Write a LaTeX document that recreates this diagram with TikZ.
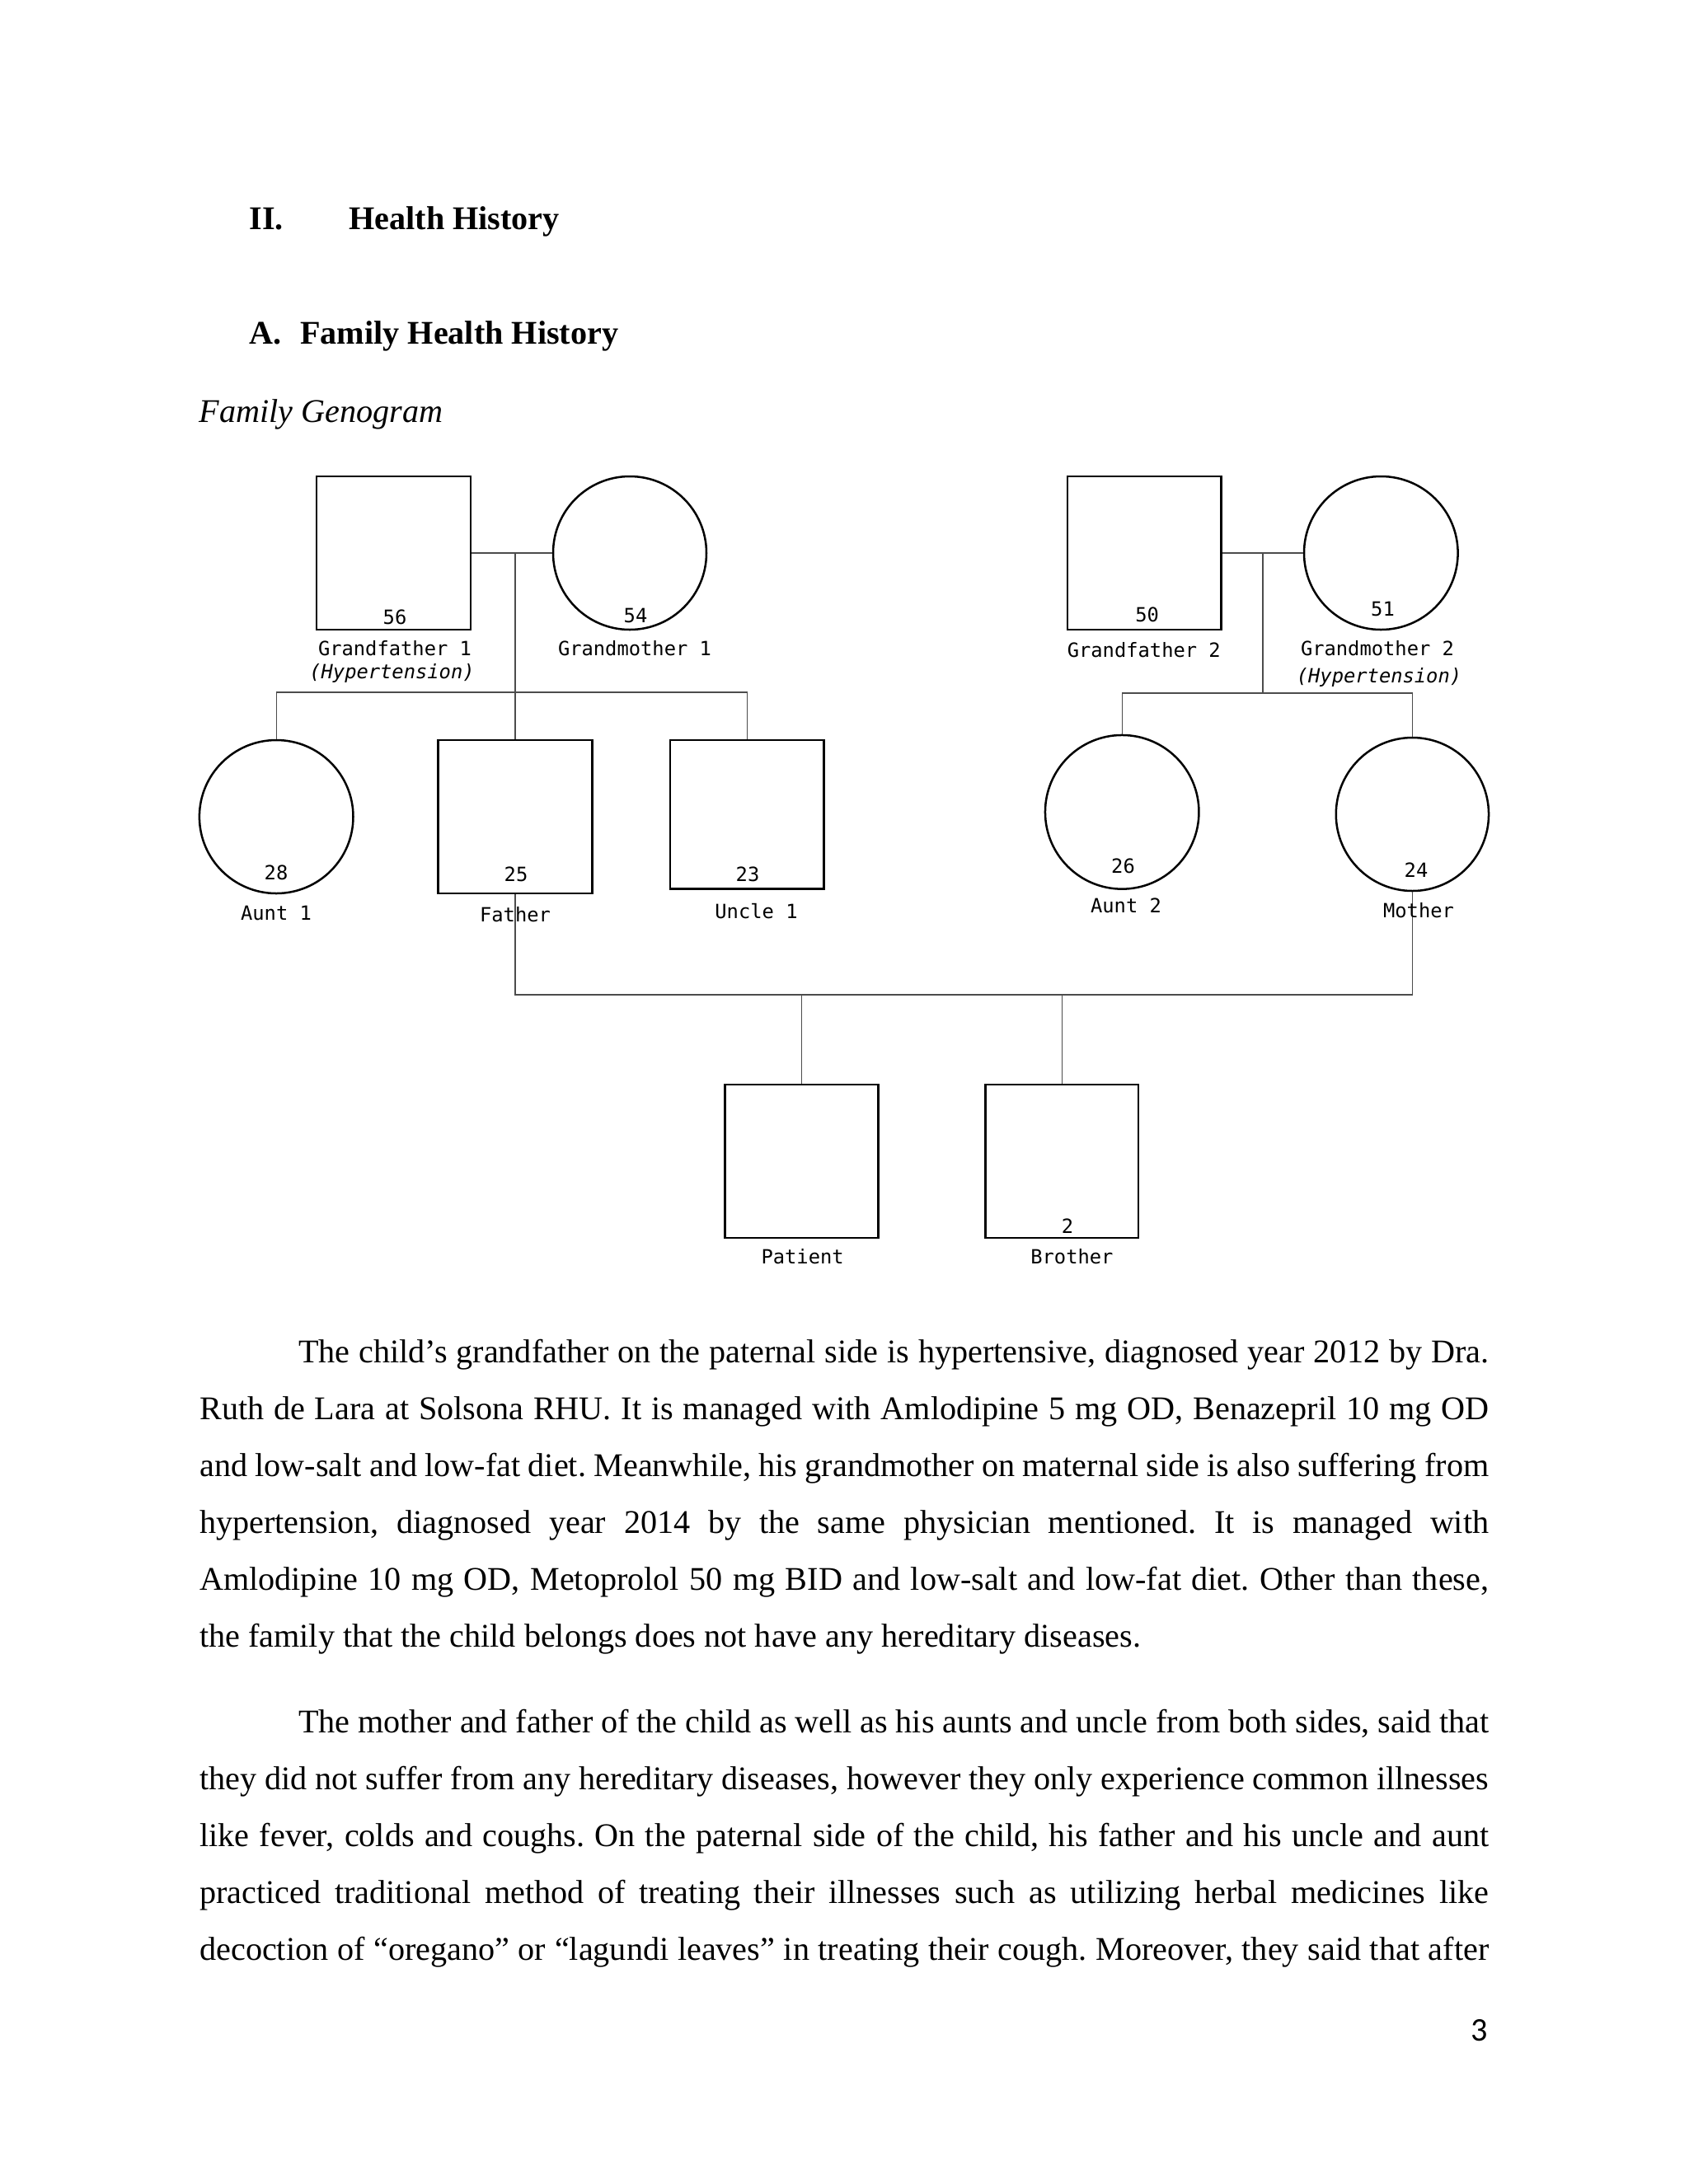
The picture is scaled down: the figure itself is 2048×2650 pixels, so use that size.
\documentclass[tikz,border=0pt]{standalone}
\usepackage{fontspec}
\usetikzlibrary{shapes.geometric}
\setmainfont{Liberation Serif}
\newfontfamily\genofont{DejaVu Sans Mono}
\newfontfamily\pagenumfont{Carlito}
\newdimen\pxu \pxu=0.298828bp
\begin{document}
\begin{tikzpicture}[x=0.298828bp,y=-0.298828bp,
  sqnode/.style 2 args={draw=black, line width=0.75bp, rectangle, inner sep=0pt, minimum width=#1*0.298828bp, minimum height=#2*0.298828bp},
  circnode/.style 2 args={draw=black, line width=0.75bp, ellipse, inner sep=0pt, minimum width=#1*0.298828bp, minimum height=#2*0.298828bp},
  conn/.style={draw=black!70, line width=0.4bp},
  lbl/.style={font=\genofont\fontsize{7.1bp}{8bp}\selectfont, anchor=base, inner sep=0pt},
  lbli/.style={font=\genofont\itshape\fontsize{7.1bp}{8bp}\selectfont, anchor=base, inner sep=0pt},
  head/.style={font=\bfseries\fontsize{12bp}{14bp}\selectfont, anchor=base west, inner sep=0pt},
  capt/.style={font=\itshape\fontsize{12bp}{14bp}\selectfont, anchor=base west, inner sep=0pt},
  para/.style={inner sep=0pt, text width=1564*0.298828bp, align=justify, anchor=base west, font=\fontsize{12bp}{20.65bp}\selectfont}
]
\useasboundingbox (0,0) rectangle (2048,2650);
\fill[white] (0,0) rectangle (2048,2650);

% headings
\node[head] (h2num) at (302,278) {II.};
\node[head] (h2) at (422.7,278) {Health History};
\node[head] (h3num) at (302,417) {A.};
\node[head] (h3) at (363.6,417) {Family Health History};
\node[capt] (cap) at (241,512) {Family Genogram};

% genogram shapes
\node[sqnode={187}{186}] (gf1) at (477.3,671) {};
\node[circnode={186}{186}] (gm1) at (764,671) {};
\node[sqnode={186.5}{186}] (gf2) at (1388.3,671) {};
\node[circnode={186.6}{186}] (gm2) at (1675.3,671) {};
\node[circnode={186.6}{186}] (aunt1) at (335.2,991) {};
\node[sqnode={186.5}{186}] (father) at (625,991) {};
\node[sqnode={186.6}{180.7}] (uncle1) at (906.3,988.3) {};
\node[circnode={186.5}{186.7}] (aunt2) at (1361.2,985.3) {};
\node[circnode={185.3}{186}] (mother) at (1713.4,988) {};
\node[sqnode={186}{186}] (patient) at (972.5,1409) {};
\node[sqnode={185.4}{186}] (brother) at (1288.3,1409) {};

% connectors
\coordinate (m1) at (625,672);
\coordinate (s1) at (625,840);
\draw[conn] (gf1.east) -- (gm1.west);
\draw[conn] (m1) -- (s1);
\draw[conn] (aunt1.north) |- (s1) -| (uncle1.north);
\draw[conn] (s1) -- (father.north);

\coordinate (m2) at (1532,672);
\coordinate (s2) at (1532,841);
\draw[conn] (gf2.east) -- (gm2.west);
\draw[conn] (m2) -- (s2);
\draw[conn] (aunt2.north) |- (s2) -| (mother.north);

\coordinate (pl) at (972.5,1207);
\draw[conn] (father.south) |- (pl) -| (mother.south);
\draw[conn] (pl) -- (patient.north);
\draw[conn] (brother.north) -- (brother.north |- pl);

% labels
\node[lbl] (a56) at (479,757) {56};
\node[lbl] (ngf1) at (479,795) {Grandfather 1};
\node[lbli] (hgf1) at (475.5,823) {(Hypertension)};
\node[lbl] (a54) at (771,755) {54};
\node[lbl] (ngm1) at (770,795) {Grandmother 1};
\node[lbl] (a50) at (1391.6,754) {50};
\node[lbl] (ngf2) at (1387.8,797) {Grandfather 2};
\node[lbl] (a51) at (1677.5,747) {51};
\node[lbl] (ngm2) at (1671,795) {Grandmother 2};
\node[lbli] (hgm2) at (1673,828) {(Hypertension)};
\node[lbl] (a28) at (335,1067) {28};
\node[lbl] (a25) at (626,1069) {25};
\node[lbl] (a23) at (907,1069) {23};
\node[lbl] (naunt1) at (335,1116) {Aunt 1};
\node[lbl] (nfather) at (625,1118) {Father};
\node[lbl] (nuncle1) at (917.5,1114) {Uncle 1};
\node[lbl] (a26) at (1362.5,1059) {26};
\node[lbl] (a24) at (1718,1064) {24};
\node[lbl] (naunt2) at (1366,1107) {Aunt 2};
\node[lbl] (nmother) at (1721,1113) {Mother};
\node[lbl] (a2) at (1295,1496) {2};
\node[lbl] (npatient) at (973.6,1533) {Patient};
\node[lbl] (nbrother) at (1300.4,1533) {Brother};

% body text
\node[para] (p1) at (241.6,1653) {\frenchspacing\tolerance=10000 \hyphenpenalty=10000 \exhyphenpenalty=10000 \hspace*{120\pxu}The child’s grandfather on the paternal side is hypertensive, diagnosed year 2012 by Dra.\linebreak Ruth de Lara at Solsona RHU. It is managed with Amlodipine 5 mg OD, Benazepril 10 mg OD\linebreak and low-salt and low-fat diet. Meanwhile, his grandmother on maternal side is also suffering from\linebreak hypertension, diagnosed year 2014 by the same physician mentioned. It is managed with\linebreak Amlodipine 10 mg OD, Metoprolol 50 mg BID and low-salt and low-fat diet. Other than these,\linebreak the family that the child belongs does not have any hereditary diseases.};

\node[para] (p2) at (241.6,2102) {\frenchspacing\tolerance=10000 \hyphenpenalty=10000 \exhyphenpenalty=10000 \hspace*{120\pxu}The mother and father of the child as well as his aunts and uncle from both sides, said that\linebreak they did not suffer from any hereditary diseases, however they only experience common illnesses\linebreak like fever, colds and coughs. On the paternal side of the child, his father and his uncle and aunt\linebreak practiced traditional method of treating their illnesses such as utilizing herbal medicines like\linebreak \makebox[\linewidth][s]{decoction of “oregano” or “lagundi leaves” in treating their cough. Moreover, they said that after}};

\node[font=\pagenumfont\fontsize{12bp}{14bp}\selectfont, anchor=base east, inner sep=0pt] (pg) at (1806,2476) {3};
\end{tikzpicture}
\end{document}
